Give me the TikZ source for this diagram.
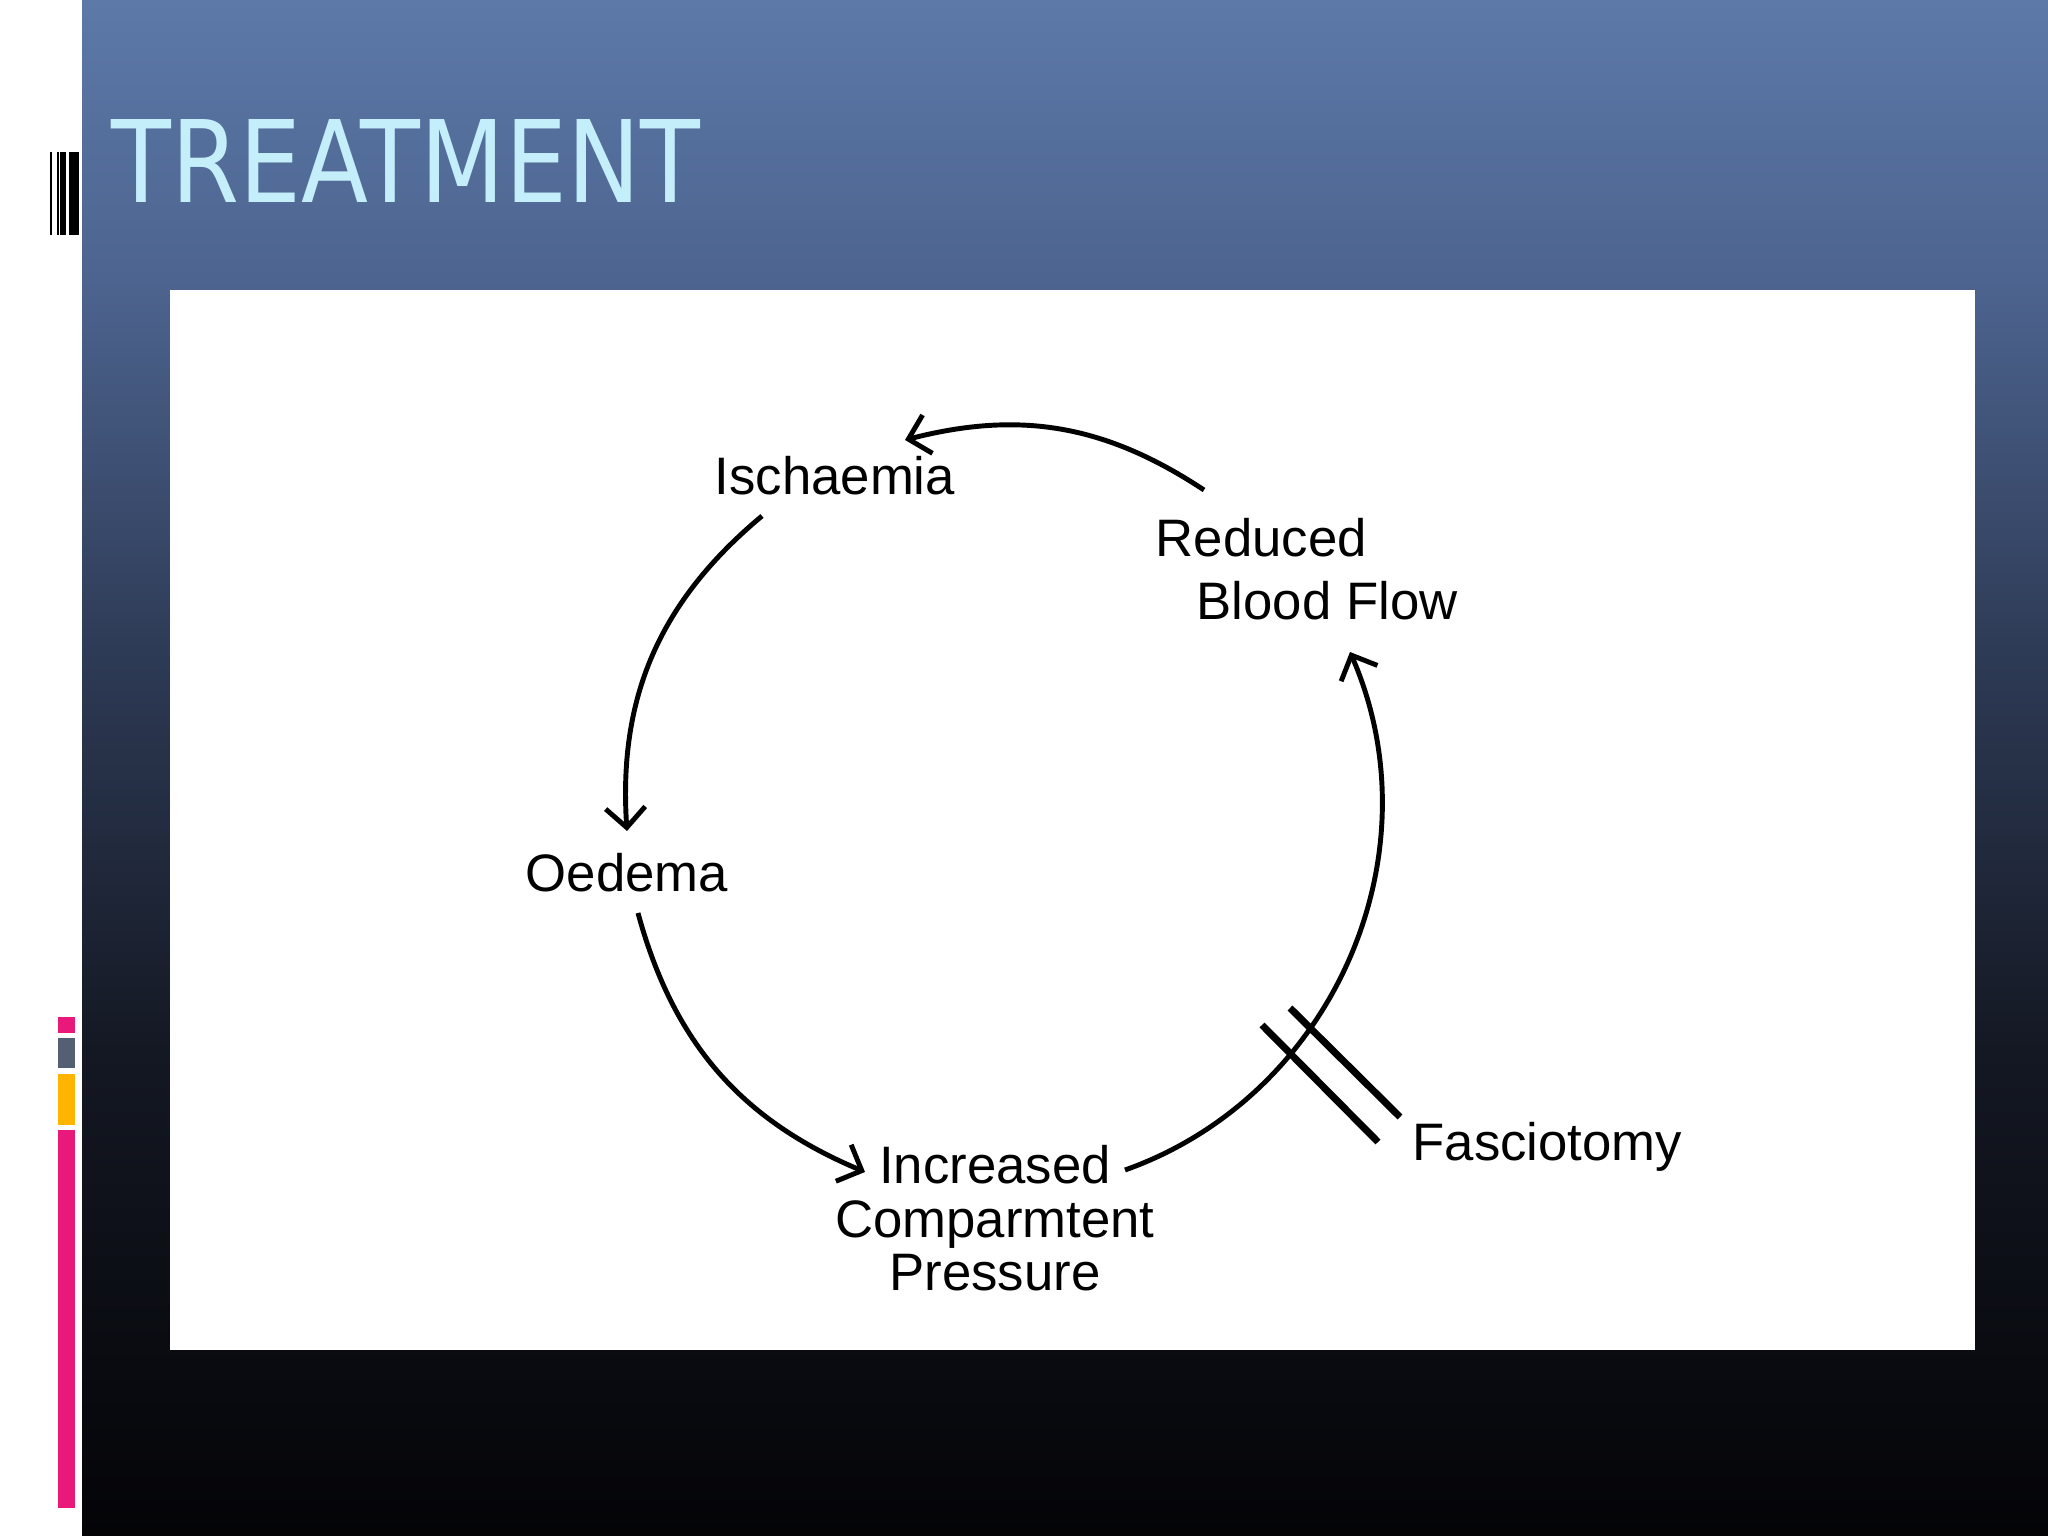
\documentclass[tikz,border=0pt]{standalone}
\usepackage{fontspec}
\setmainfont{Liberation Sans}
\newfontfamily\titlefont[FakeStretch=0.86]{DejaVu Sans}
\usepackage{xcolor}
\usepackage{tikz}
\usetikzlibrary{arrows.meta}

\definecolor{bgA}{RGB}{92,121,168}
\definecolor{bgB}{RGB}{76,99,142}
\definecolor{bgC}{RGB}{46,59,86}
\definecolor{bgD}{RGB}{20,24,35}
\definecolor{bgE}{RGB}{4,4,7}
\definecolor{titlecol}{RGB}{195,238,250}
\definecolor{accpink}{RGB}{232,25,122}
\definecolor{accgray}{RGB}{85,95,115}
\definecolor{accorange}{RGB}{255,180,0}

\begin{document}
\begin{tikzpicture}[
    lbl/.style={font=\fontsize{15}{19}\selectfont, inner sep=0pt, anchor=base west},
    arr/.style={-{Straight Barb[angle=90:2.8mm]}, line width=1.4pt},
    cut/.style={line width=2pt}
]
\useasboundingbox (0,0) rectangle (20.48,-15.36);
% slide background
\fill[white] (0,0) rectangle (0.82,-15.36);
\fill[top color=bgA, bottom color=bgB] (0.82,0) rectangle (20.48,-2.9);
\fill[top color=bgB, bottom color=bgC] (0.82,-2.9) rectangle (20.48,-6.5);
\fill[top color=bgC, bottom color=bgD] (0.82,-6.5) rectangle (20.48,-10.5);
\fill[top color=bgD, bottom color=bgE] (0.82,-10.5) rectangle (20.48,-15.36);
% barcode mark
\fill[black] (0.50,-1.52) rectangle (0.524,-2.35);
\fill[black] (0.567,-1.52) rectangle (0.587,-2.35);
\fill[black] (0.601,-1.52) rectangle (0.664,-2.35);
\fill[black] (0.688,-1.52) rectangle (0.79,-2.35);
% accent bars
\fill[accpink] (0.58,-10.17) rectangle (0.75,-10.33);
\fill[accgray] (0.58,-10.38) rectangle (0.75,-10.68);
\fill[accorange] (0.58,-10.74) rectangle (0.75,-11.25);
\fill[accpink] (0.58,-11.30) rectangle (0.75,-15.08);
% title
\node[anchor=base west, inner sep=0pt, text=titlecol, font=\titlefont\fontsize{32.4}{36}\selectfont] (title) at (1.11,-2.03) {TREATMENT};
% picture panel
\fill[white] (1.70,-2.90) rectangle (19.75,-13.50);

\node[lbl] (isch) at (7.14,-4.95) {Ischaemia};
\node[lbl] (red) at (11.55,-5.57) {Reduced};
\node[lbl] (blood) at (11.96,-6.20) {Blood Flow};
\node[lbl] (oed) at (5.25,-8.91) {Oedema};
\node[lbl, anchor=base] (inc) at (9.95,-11.83) {Increased};
\node[lbl, anchor=base] (comp) at (9.95,-12.37) {Comparmtent};
\node[lbl, anchor=base] (pres) at (9.95,-12.90) {Pressure};
\node[lbl] (fasc) at (14.12,-11.60) {Fasciotomy};

\coordinate (rOut) at (12.04,-4.90);
\coordinate (iIn) at (9.05,-4.40);
\coordinate (iOut) at (7.62,-5.16);
\coordinate (oIn) at (6.27,-8.31);
\coordinate (oOut) at (6.38,-9.13);
\coordinate (pIn) at (8.65,-11.72);
\coordinate (pOut) at (11.25,-11.70);
\coordinate (rIn) at (13.50,-6.52);
\draw[arr] (rOut) to[bend right=24] (iIn);
\draw[arr] (iOut) to[bend right=27] (oIn);
\draw[arr] (oOut) to[bend right=26] (pIn);
\draw[arr] (pOut) to[bend right=47] (rIn);

% cut marks
\coordinate (cA1) at (12.90,-10.08);
\coordinate (cA2) at (14.00,-11.17);
\coordinate (cB1) at (12.62,-10.25);
\coordinate (cB2) at (13.78,-11.42);
\draw[cut] (cA1) -- (cA2);
\draw[cut] (cB1) -- (cB2);
\end{tikzpicture}
\end{document}
